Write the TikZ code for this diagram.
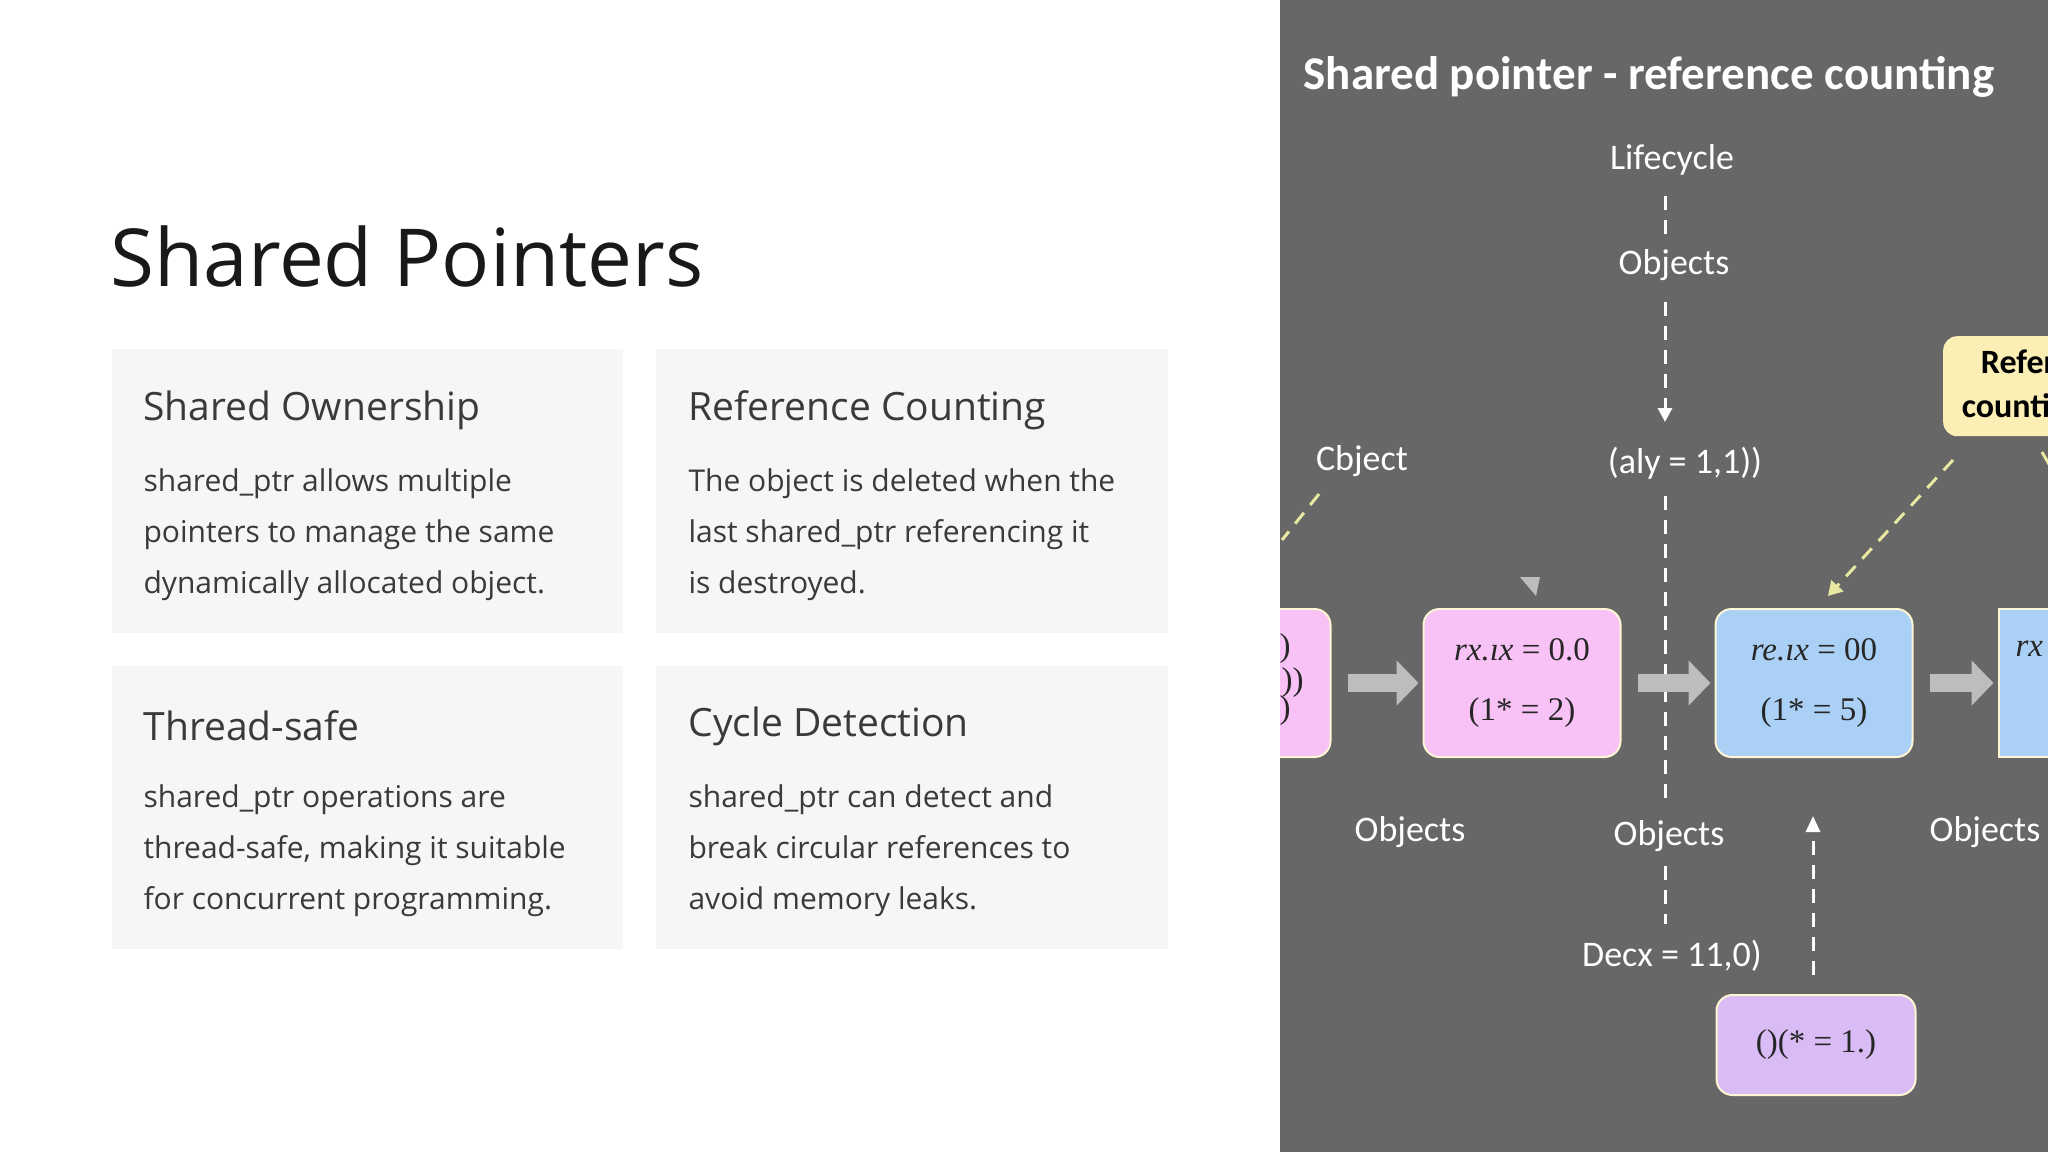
\documentclass[tikz,border=0pt]{standalone}
\usepackage{fontspec}
\setmainfont{Open Sans}
\newfontfamily\carfont{Carlito}
\newfontfamily\serfnt{Liberation Serif}
\usetikzlibrary{arrows.meta,calc}
\definecolor{card}{HTML}{F7F5F5}
\definecolor{panel}{HTML}{676767}
\definecolor{pinkb}{HTML}{F9C2F6}
\definecolor{blueb}{HTML}{ABD0F5}
\definecolor{purpb}{HTML}{D9BCF5}
\definecolor{yelb}{HTML}{FBEFB5}
\definecolor{yline}{HTML}{E8E8A0}
\definecolor{garr}{HTML}{BDBDBD}
\definecolor{txt}{HTML}{3A3A3A}
\tikzset{
 cardbox/.style={fill=card,draw=none},
 head/.style={anchor=west,text=txt,font=\fontsize{39}{46}\selectfont},
 body/.style={anchor=north west,text=txt,align=left,font=\fontsize{30}{51}\selectfont},
 lab/.style={text=white,font=\carfont\fontsize{36}{40}\selectfont},
 obox/.style={rounded corners=16pt,draw=yelb!60,line width=2pt,minimum width=197pt,minimum height=148pt,align=center,text=black!85,font=\serfnt\fontsize{33}{60}\selectfont},
 btxt/.style={text=black!85,font=\serfnt\fontsize{33}{60}\selectfont},
 wdash/.style={white,dash pattern=on 14pt off 10pt,line width=3pt},
 ydash/.style={yline,dash pattern=on 14pt off 10pt,line width=3pt},
 garrow/.style={garr,line width=18pt,-{Triangle[length=22pt,width=44pt]}},
}
\begin{document}
\begin{tikzpicture}[x=1pt,y=-1pt]
\useasboundingbox (0,0) rectangle (2048,1152);
\fill[white] (0,0) rectangle (1280,1152);
\node[anchor=west,text=black!90,font=\fontsize{80}{90}\selectfont] (title) at (107,256) {Shared Pointers};
% cards
\fill[cardbox] (112,349) rectangle (623,633);
\fill[cardbox] (656,349) rectangle (1168,633);
\fill[cardbox] (112,666) rectangle (623,949);
\fill[cardbox] (656,666) rectangle (1168,949);
\node[head] (h1) at (140,410) {Shared Ownership};
\node[body] (b1) at (140,465) {shared\_ptr allows multiple\\pointers to manage the same\\dynamically allocated object.};
\node[head] (h2) at (685,410) {Reference Counting};
\node[body] (b2) at (685,465) {The object is deleted when the\\last shared\_ptr referencing it\\is destroyed.};
\node[head] (h3) at (140,726) {Thread-safe};
\node[body] (b3) at (140,781) {shared\_ptr operations are\\thread-safe, making it suitable\\for concurrent programming.};
\node[head] (h4) at (685,726) {Cycle Detection};
\node[body] (b4) at (685,781) {shared\_ptr can detect and\\break circular references to\\avoid memory leaks.};
% right panel
\begin{scope}
\clip (1280,0) rectangle (2048,1152);
\fill[panel] (1280,0) rectangle (2048,1152);
\node[anchor=west,text=white,font=\carfont\bfseries\fontsize{47}{50}\selectfont] (rt) at (1300,77) {Shared pointer - reference counting};
\node[lab] (lc) at (1672,160) {Lifecycle};
\node[lab] (ob1) at (1674,265) {Objects};
\node[lab] (aly) at (1685,463) {(aly = 1,1))};
\node[lab] (ob2) at (1669,836) {Objects};
\node[lab] (dec) at (1672,956) {Decx = 11,0)};
\node[lab] (ob3) at (1410,832) {Objects};
\node[lab] (ob4) at (1985,832) {Objects};
\node[lab] (cb) at (1362,461) {Cbject};
\node[obox,fill=pinkb] (p0) at (1232,683) {};
\node[btxt,anchor=west] (p0t) at (1278,683) {)\\[-0.8em])};
\node[btxt,anchor=west,align=left] (p0a) at (1276,649) {)};
\node[btxt,anchor=west,align=left] (p0b) at (1276,711) {)};
\node[obox,fill=pinkb] (p1) at (1522,683) {\textit{rx.ıx} = 0.0\\(1* = 2)};
\node[obox,fill=blueb] (p2) at (1814,683) {\textit{re.ıx} = 00\\(1* = 5)};
\node[obox,fill=blueb,rounded corners=0pt] (p3) at (2097,683) {};
\node[btxt,anchor=west] (p3t) at (2012,649) {\textit{rx}};
\node[obox,fill=purpb,minimum height=100pt,minimum width=199pt] (pc) at (1816,1045) {()(* = 1.)};
\node[rounded corners=14pt,fill=yelb,minimum width=160pt,minimum height=100pt,align=center,anchor=north west,font=\carfont\bfseries\fontsize{34}{44}\selectfont] (ref) at (1943,336) {Refer-\\counting};
\draw[wdash] (1665,196) -- (1665,236);
\draw[wdash,-{Triangle[length=14pt,width=14pt]}] (1665,302) -- (1665,422);
\draw[wdash] (1665,496) -- (1665,805);
\draw[wdash] (1665,866) -- (1665,924);
\draw[wdash,-{Triangle[length=16pt,width=14pt]}] (1813,975) -- (1813,816);
\draw[garrow] ($(p0.east)+(16,0)$) -- ($(p1.west)+(-4,0)$);
\draw[garrow] ($(p1.east)+(16,0)$) -- ($(p2.west)+(-4,0)$);
\draw[garrow] ($(p2.east)+(16,0)$) -- ($(p3.west)+(-4,0)$);
\draw[ydash] (1319,494) -- (1282,540);
\draw[ydash,-{Triangle[length=14pt,width=16pt]}] (1953,460) -- (1828,596);
\draw[ydash] (2042,452) -- (2050,466);
\fill[garr] (1520,577) -- (1540,577) -- (1536,596) -- cycle;
\end{scope}
\end{tikzpicture}
\end{document}
